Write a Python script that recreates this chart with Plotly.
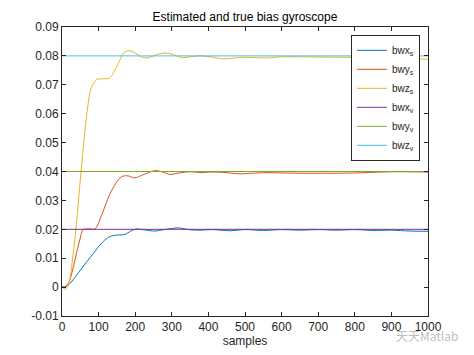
import plotly.graph_objects as go

# ---- data ----
x_bwx_s = [0, 10, 20, 30, 45, 60, 71, 85, 100, 117, 131, 150, 172, 180, 195, 205, 225, 254, 280, 317, 345, 377, 410, 459, 500, 550, 600, 650, 700, 750, 800, 850, 900, 950, 1000]
y_bwx_s = [0, 0.0002, 0.001, 0.0025, 0.005, 0.0075, 0.0093, 0.0115, 0.014, 0.0163, 0.0175, 0.018, 0.0182, 0.0188, 0.0198, 0.0201, 0.0198, 0.0194, 0.0199, 0.0205, 0.0199, 0.0197, 0.0199, 0.0195, 0.0199, 0.0196, 0.0199, 0.0197, 0.0199, 0.0197, 0.0199, 0.0196, 0.0197, 0.0194, 0.0193]

x_bwy_s = [0, 10, 20, 30, 40, 50, 57, 70, 90, 110, 130, 150, 164, 180, 199, 220, 254, 275, 295, 320, 350, 380, 404, 440, 486, 520, 560, 600, 650, 700, 750, 800, 850, 900, 950, 1000]
y_bwy_s = [0, 0.0003, 0.002, 0.0065, 0.012, 0.017, 0.0198, 0.0202, 0.0201, 0.0255, 0.032, 0.0365, 0.0383, 0.0385, 0.0378, 0.0388, 0.0403, 0.0398, 0.039, 0.0395, 0.0399, 0.0396, 0.0398, 0.0397, 0.0392, 0.0394, 0.0396, 0.0395, 0.0394, 0.0394, 0.0394, 0.0395, 0.0397, 0.0399, 0.0399, 0.0398]

x_bwz_s = [0, 10, 20, 30, 38, 50, 66, 80, 95, 110, 130, 150, 170, 185, 200, 215, 232, 260, 281, 300, 328, 350, 377, 410, 437, 500, 560, 600, 700, 800, 900, 950, 1000]
y_bwz_s = [0, -0.0007, 0.002, 0.011, 0.02, 0.037, 0.058, 0.069, 0.0718, 0.0721, 0.0723, 0.0765, 0.0812, 0.0818, 0.081, 0.0798, 0.0793, 0.0805, 0.081, 0.0806, 0.0794, 0.0797, 0.08, 0.0796, 0.079, 0.0795, 0.0793, 0.0797, 0.0796, 0.0795, 0.0795, 0.0792, 0.0788]

x_true = [0, 1000]
y_bwx_v = [0.02, 0.02]
y_bwy_v = [0.04, 0.04]
y_bwz_v = [0.08, 0.08]

names = ["bwx<sub>s</sub>", "bwy<sub>s</sub>", "bwz<sub>s</sub>", "bwx<sub>v</sub>", "bwy<sub>v</sub>", "bwz<sub>v</sub>"]
colors = ["#0072BD", "#D95319", "#EDB120", "#7E2F8E", "#77AC30", "#4DBEEE"]

x_ticks = [0, 100, 200, 300, 400, 500, 600, 700, 800, 900, 1000]
y_ticks = [-0.01, 0, 0.01, 0.02, 0.03, 0.04, 0.05, 0.06, 0.07, 0.08, 0.09]
y_tick_text = ["-0.01", "0", "0.01", "0.02", "0.03", "0.04", "0.05", "0.06", "0.07", "0.08", "0.09"]

series = [
    (x_bwx_s, y_bwx_s, True),
    (x_bwy_s, y_bwy_s, True),
    (x_bwz_s, y_bwz_s, True),
    (x_true, y_bwx_v, False),
    (x_true, y_bwy_v, False),
    (x_true, y_bwz_v, False),
]

fig = go.Figure()
for (xs, ys, smooth), name, col in zip(series, names, colors):
    fig.add_trace(go.Scatter(
        x=xs, y=ys, name=name, mode="lines",
        line=dict(color=col, width=1, shape="spline" if smooth else "linear", smoothing=0.8),
    ))

font_family = "Liberation Sans"
axis_common = dict(
    showline=True, mirror="ticks", linecolor="#262626", linewidth=1,
    ticks="inside", ticklen=4, tickcolor="#262626", showgrid=False, zeroline=False,
    tickfont=dict(size=12, color="#262626", family=font_family),
    automargin=False,
)

# the page body adds an 8px margin, so the figure is 8px smaller than the window
fig.update_layout(
    width=466, height=347,
    margin=dict(l=54, r=46, t=19, b=39),
    paper_bgcolor="white", plot_bgcolor="white",
    title=dict(text="Estimated and true bias gyroscope", xref="paper", x=0.5, xanchor="center",
               y=0.974, yanchor="middle",
               font=dict(size=12, color="#000000", family=font_family)),
    xaxis=dict(range=[0, 1000], tickvals=x_ticks,
               title=dict(text="samples", font=dict(size=12, color="#262626", family=font_family), standoff=3),
               **axis_common),
    yaxis=dict(range=[-0.01, 0.09], tickvals=y_ticks, ticktext=y_tick_text, **axis_common),
    legend=dict(x=0.978, y=0.973, xanchor="right", yanchor="top",
                bgcolor="white", bordercolor="#262626", borderwidth=1,
                font=dict(size=10, color="#262626", family=font_family),
                tracegroupgap=0, itemwidth=30),
    showlegend=True,
)

fig.add_annotation(text="天天Matlab", x=0.997, y=-0.066, xref="paper", yref="paper",
                   xanchor="center", yanchor="middle", showarrow=False,
                   font=dict(size=12, color="rgba(160,160,160,0.7)", family="Noto Sans CJK SC"))

fig.write_html("out.html")
